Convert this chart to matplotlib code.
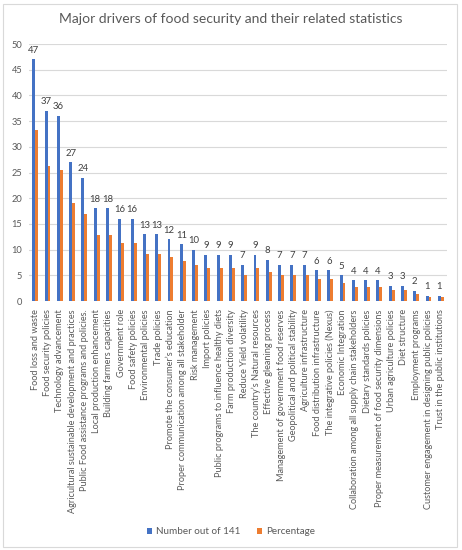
import numpy as np
import matplotlib.pyplot as plt
from matplotlib.patches import Rectangle

categories = [
    "Food loss and waste",
    "Food security policies",
    "Technology advancement",
    "Agricultural sustainable development and practices",
    "Public Food assistance programs and policies.",
    "Local production enhancement",
    "Building farmers capacities",
    "Government role",
    "Food safety policies",
    "Environmental policies",
    "Trade policies",
    "Promote the consumer\u2019s education",
    "Proper communication among all stakeholder",
    "Risk management",
    "Import policies",
    "Public programs to influence healthy diets",
    "Farm production diversity",
    "Reduce Yield volatility",
    "The country\u2019s Natural resources",
    "Effective gleaning process",
    "Management of government food reserves",
    "Geopolitical and political stability",
    "Agriculture infrastructure",
    "Food distribution infrastructure",
    "The integrative policies (Nexus)",
    "Economic Integration",
    "Collaboration among all supply chain stakeholders",
    "Dietary standards policies",
    "Proper measurement of food security dimensions",
    "Urban agriculture policies",
    "Diet structure",
    "Employment programs",
    "Customer engagement in designing public policies",
    "Trust in the public institutions",
]
counts = [47, 37, 36, 27, 24, 18, 18, 16, 16, 13, 13, 12, 11, 10, 9, 9, 9, 7,
          9, 8, 7, 7, 7, 6, 6, 5, 4, 4, 4, 3, 3, 2, 1, 1]
percentages = [33.3, 26.2, 25.5, 19.1, 17.0, 12.8, 12.8, 11.3, 11.3, 9.2, 9.2,
               8.5, 7.8, 7.1, 6.4, 6.4, 6.4, 5.0, 6.4, 5.7, 5.0, 5.0, 5.0, 4.3,
               4.3, 3.5, 2.8, 2.8, 2.8, 2.1, 2.1, 1.4, 0.7, 0.7]

BLUE = "#4472C4"
ORANGE = "#ED7D31"
TEXT = "#595959"

plt.rcParams["font.family"] = ["Lato", "DejaVu Sans"]

fig = plt.figure(figsize=(4.62, 5.5), dpi=100)
ax = fig.add_axes([0.063, 0.4527, 0.9045, 0.4673])

x = np.arange(len(categories))
w = 0.239
ax.bar(x - w / 2, counts, w, color=BLUE, label="Number out of 141", zorder=3)
ax.bar(x + w / 2, percentages, w, color=ORANGE, label="Percentage", zorder=3)

# count labels above the blue bars
for xi, v in zip(x, counts):
    ax.text(xi - w / 2, v + 0.9, str(v), ha="center", va="bottom",
            fontsize=6.9, color="#404040", clip_on=False)

ax.set_xlim(-0.5, len(categories) - 0.5)
ax.set_ylim(0, 50)
ax.set_yticks(range(0, 51, 5))
ax.grid(axis="y", color="#d9d9d9", linewidth=0.8, zorder=0)
for s in ax.spines.values():
    s.set_visible(False)
ax.tick_params(axis="y", length=0, labelsize=6.7, colors=TEXT, pad=5)
ax.set_xticks(x)
ax.set_xticklabels(categories, rotation=90, ha="center", va="top")
ax.tick_params(axis="x", length=0, labelsize=6.6, colors=TEXT, pad=6)

fig.suptitle("Major drivers of food security and their related statistics",
             x=0.5, y=0.977, fontsize=10, color=TEXT)

fig.legend(loc="center", bbox_to_anchor=(0.5, 0.033), ncol=2, frameon=False,
           fontsize=7.1, handlelength=0.6, handleheight=0.6, handletextpad=0.4,
           columnspacing=1.6, labelcolor=TEXT)

fig.patches.append(Rectangle((0.006, 0.006), 0.983, 0.986, transform=fig.transFigure,
                             fill=False, edgecolor="#d9d9d9", linewidth=0.8))

fig.savefig("out.png", dpi=100)
